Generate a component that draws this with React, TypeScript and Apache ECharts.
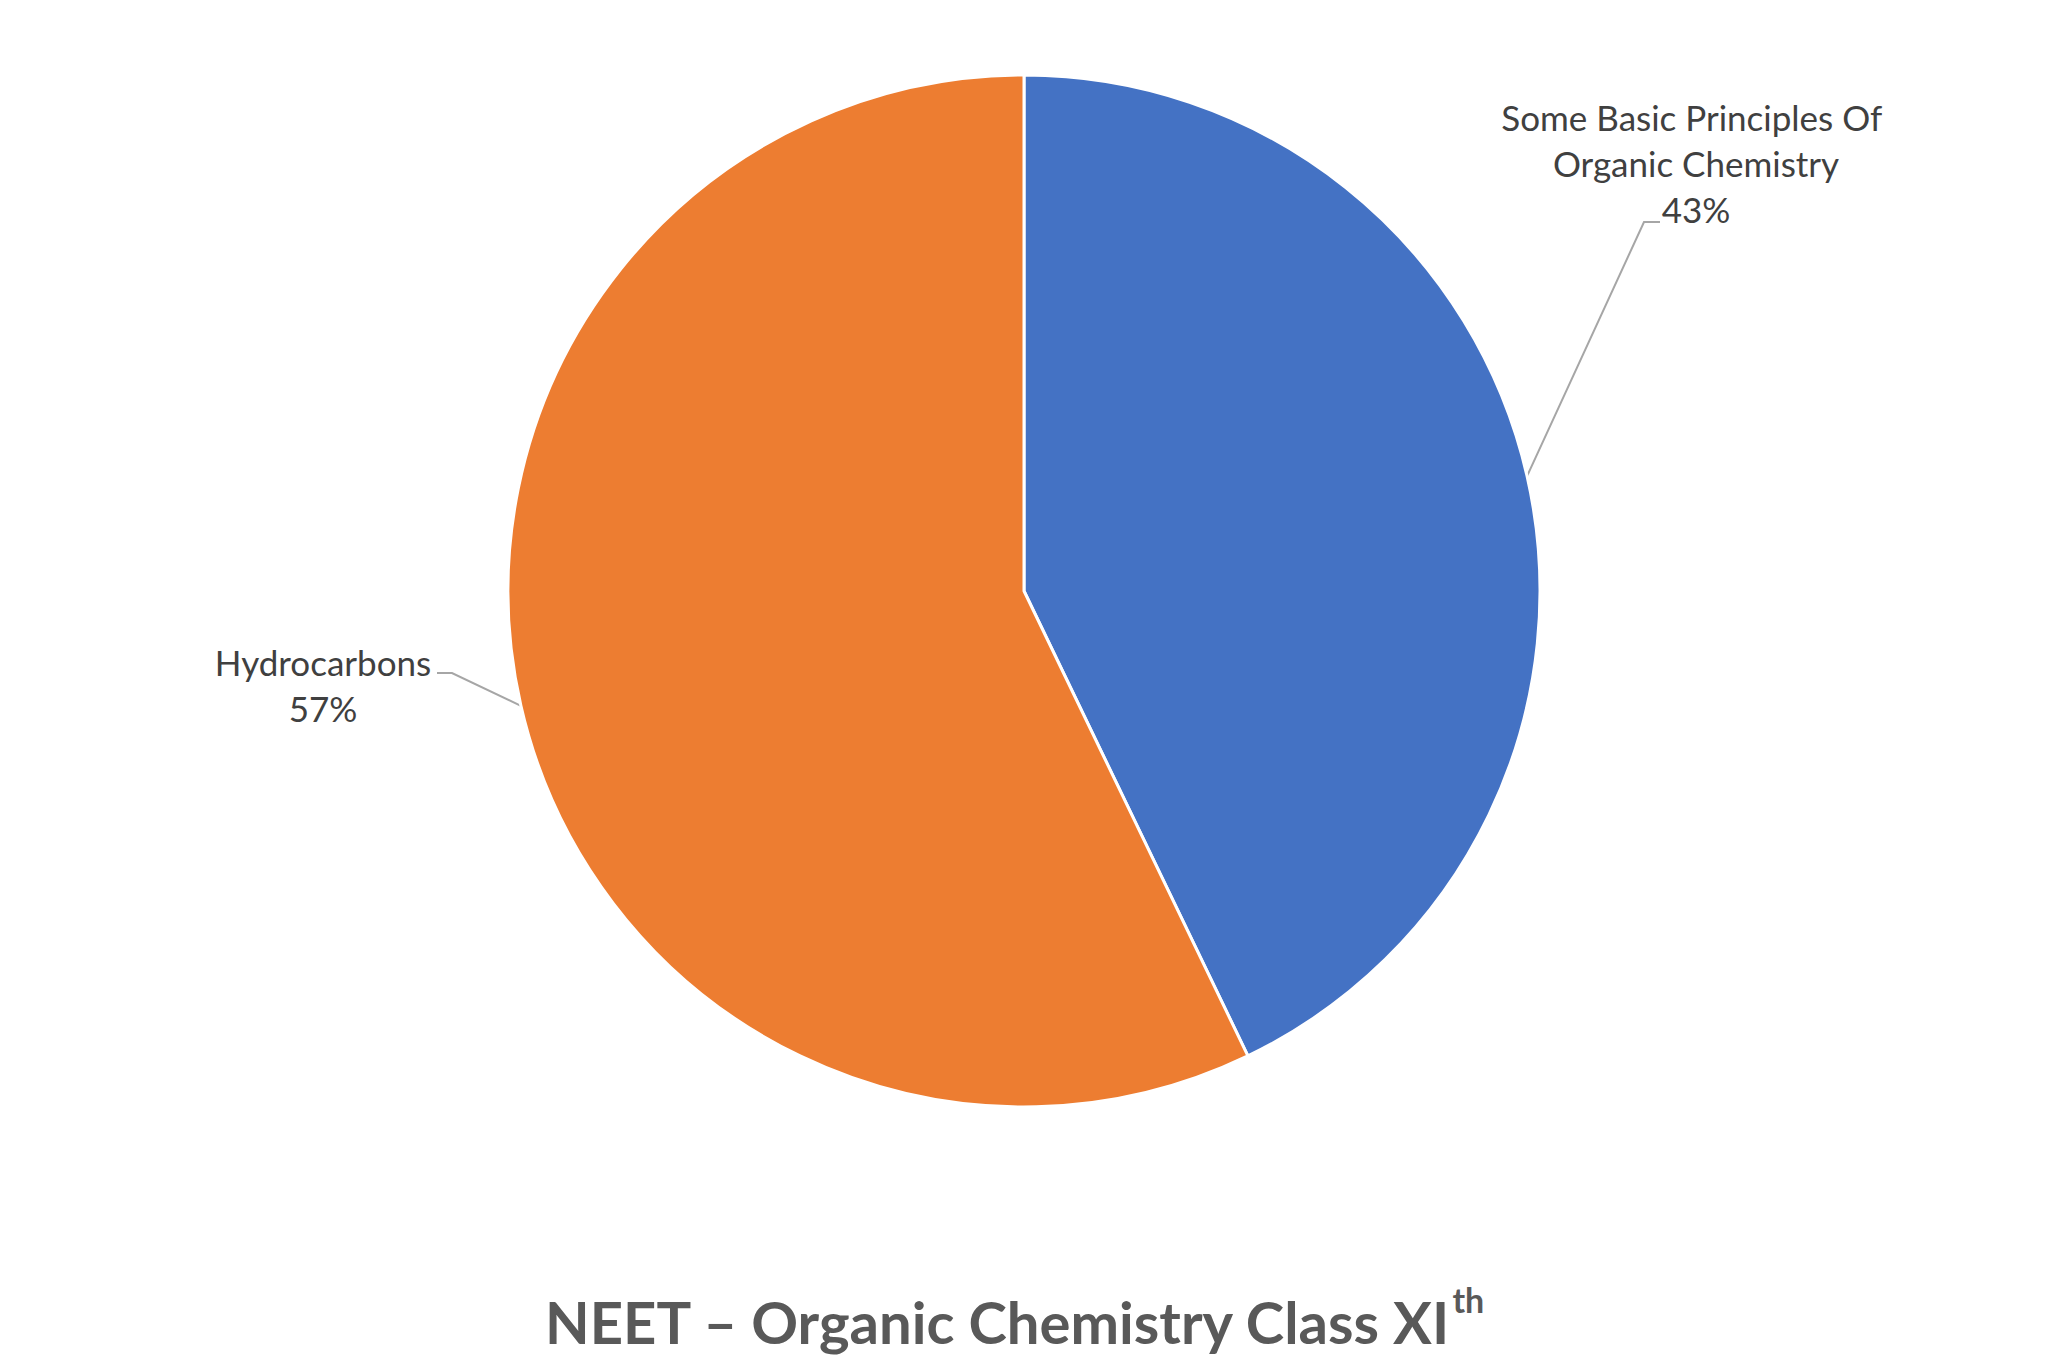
import React, { useEffect, useRef } from 'react'
import * as echarts from 'echarts'

const categories = ['Some Basic Principles Of Organic Chemistry', 'Hydrocarbons']
const values = [3, 4]
const colors = ['#4472C4', '#ED7D31']

const App: React.FC = () => {
  const chartRef = useRef<HTMLDivElement>(null)

  useEffect(() => {
    if (!chartRef.current) return
    document.body.style.margin = '0'

    const chart = echarts.init(chartRef.current, null, { renderer: 'svg' })

    // label anchor spots (label block center, line elbow, line end)
    const labelSpots = [
      { x: 1696, y: 163, elbow: [1644, 222], end: [1660, 222] },
      { x: 323, y: 685, elbow: [452, 673], end: [437, 673] }
    ]

    const option = {
      animation: false,
      backgroundColor: '#ffffff',
      title: {
        text: '{main|NEET – Organic Chemistry Class XI}{sup|th}',
        left: 540,
        top: 1277,
        textStyle: {
          rich: {
            main: {
              fontFamily: 'Lato',
              fontWeight: 'bold',
              fontSize: 58,
              color: '#595959',
              lineHeight: 68,
              verticalAlign: 'bottom'
            },
            sup: {
              fontFamily: 'Lato',
              fontWeight: 'bold',
              fontSize: 34,
              color: '#595959',
              lineHeight: 68,
              verticalAlign: 'top'
            }
          }
        }
      },
      series: [
        {
          type: 'pie',
          center: [1024, 591],
          radius: [0, 516],
          startAngle: 90,
          clockwise: true,
          avoidLabelOverlap: false,
          itemStyle: {
            borderColor: '#ffffff',
            borderWidth: 3
          },
          label: {
            show: true,
            position: 'outside',
            fontFamily: 'Lato',
            fontSize: 35,
            lineHeight: 46,
            color: '#404040',
            width: 440,
            overflow: 'break',
            align: 'center',
            formatter: (p: any) => `${p.name}\n${Math.round(p.percent)}%`
          },
          labelLine: {
            show: true,
            length: 20,
            length2: 20,
            lineStyle: { color: '#A6A6A6', width: 2 }
          },
          labelLayout: (params: any) => {
            const spot = labelSpots[params.dataIndex]
            if (!spot) return {}
            const pts = params.labelLinePoints as number[][]
            const start = pts && pts[0] ? pts[0] : spot.elbow
            return {
              x: spot.x,
              y: spot.y,
              align: 'center',
              verticalAlign: 'middle',
              labelLinePoints: [start, spot.elbow, spot.end]
            }
          },
          emphasis: { disabled: true },
          data: categories.map((name, i) => ({
            name,
            value: values[i],
            itemStyle: { color: colors[i] }
          }))
        }
      ]
    }

    chart.setOption(option)

    return () => {
      chart.dispose()
    }
  }, [])

  return <div ref={chartRef} style={{ width: '2048px', height: '1365px' }} />
}

export default App
